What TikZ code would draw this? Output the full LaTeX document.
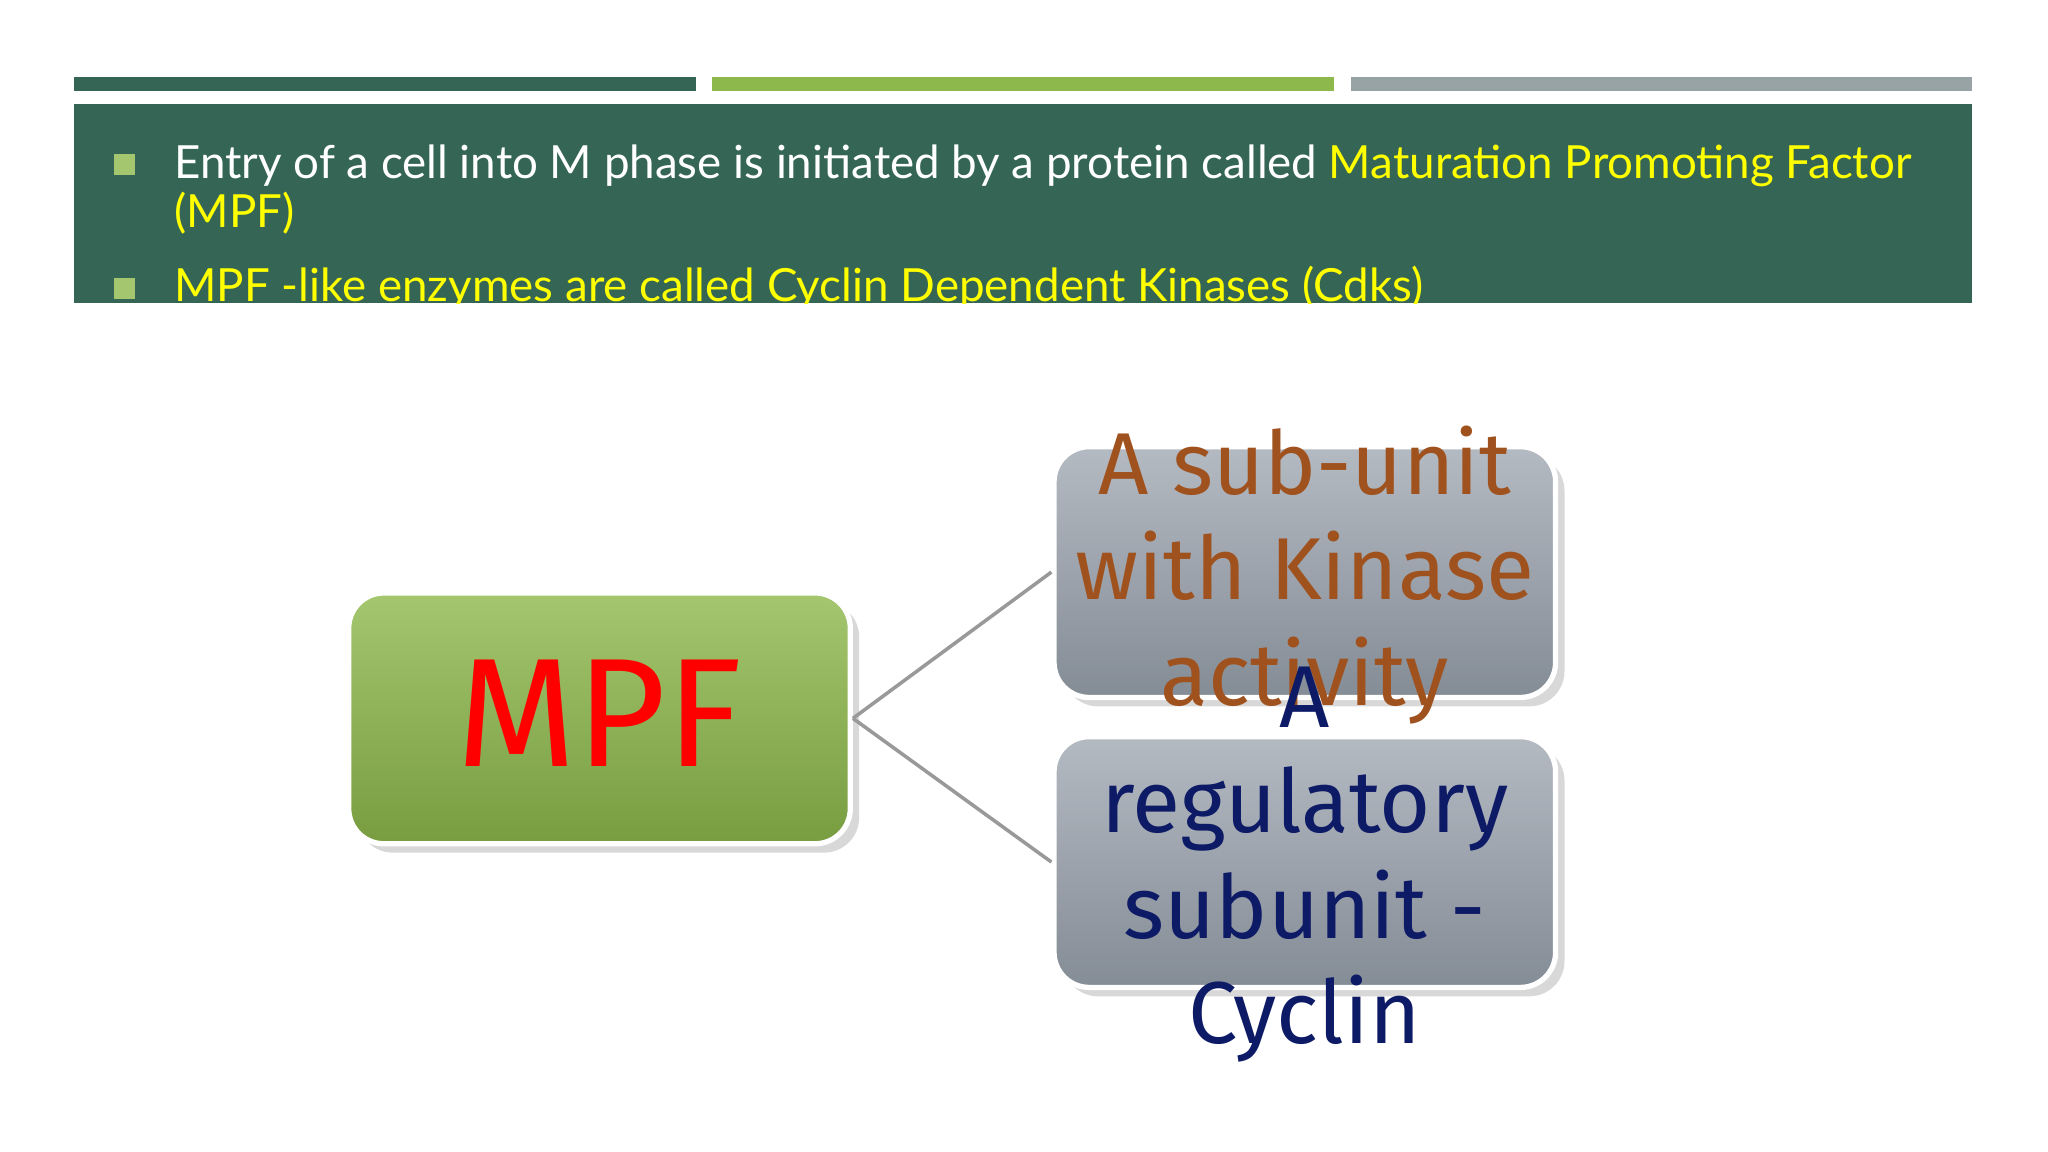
\documentclass[tikz,border=0pt]{standalone}
\usepackage{fontspec}
\setmainfont{Lato}
\newfontfamily\boxfont{Fira Sans}
\definecolor{hdr}{HTML}{356655}
\definecolor{lgreen}{HTML}{8DB84B}
\definecolor{bgray}{HTML}{98A3A6}
\definecolor{yel}{HTML}{FFFF00}
\definecolor{brn}{HTML}{A0521E}
\definecolor{navy}{HTML}{0D1A66}
\definecolor{gtop}{HTML}{B4BAC2}
\definecolor{gbot}{HTML}{848C96}
\usetikzlibrary{shadows}
\tikzset{
  gbox/.style={draw=white, line width=1.5pt, rounded corners=10pt, drop shadow={opacity=0.3}, minimum width=384*0.013061cm, minimum height=192*0.013061cm},
  conn/.style={draw=gray!80, line width=1pt},
  btxt/.style={font=\boxfont\fontsize{25}{30}\selectfont, align=center},
  bul/.style={fill=lgreen!80!white, minimum size=6pt, inner sep=0pt},
  htxt/.style={anchor=base west, font=\fontsize{13}{14}\selectfont}
}
\begin{document}
\begin{tikzpicture}[x=0.013061cm,y=-0.013061cm]
\useasboundingbox (0,0) rectangle (1568,882);
\fill[white] (0,0) rectangle (1568,882);
\fill[hdr] (57,59) rectangle (533,70);
\fill[lgreen] (545,59) rectangle (1021,70);
\fill[bgray] (1034,59) rectangle (1510,70);
\fill[hdr] (57,80) rectangle (1510,232);
\begin{scope}
\clip (57,80) rectangle (1510,232);
\node[bul] (b1) at (95,126) {};
\node[htxt, text=white] (t1) at (124,137) {Entry of a cell into M phase is initiated by a protein called \textcolor{yel}{Maturation Promoting Factor}};
\node[htxt, text=yel] (t2) at (124,174) {(MPF)};
\node[bul] (b2) at (95,221) {};
\node[htxt, text=yel] (t3) at (124,231) {MPF -like enzymes are called Cyclin Dependent Kinases (Cdks)};
\end{scope}
\node[gbox, top color=lgreen!80!white, bottom color=lgreen!85!black] (mpf) at (459,550) {};
\node[font=\boxfont\fontsize{44}{50}\selectfont, text=red] (mpft) at (459,546) {MPF};
\node[gbox, top color=gtop, bottom color=gbot] (k) at (999,438) {};
\node[gbox, top color=gtop, bottom color=gbot] (c) at (999,660) {};
\draw[conn] (mpf.east) -- (k.west);
\draw[conn] (mpf.east) -- (c.west);
\node[btxt, text=brn] (kt) at (999,440) {A sub-unit\\with Kinase\\activity};
\node[btxt, text=navy] (ct) at (999,662) {A\\regulatory\\subunit -\\Cyclin};
\end{tikzpicture}
\end{document}
